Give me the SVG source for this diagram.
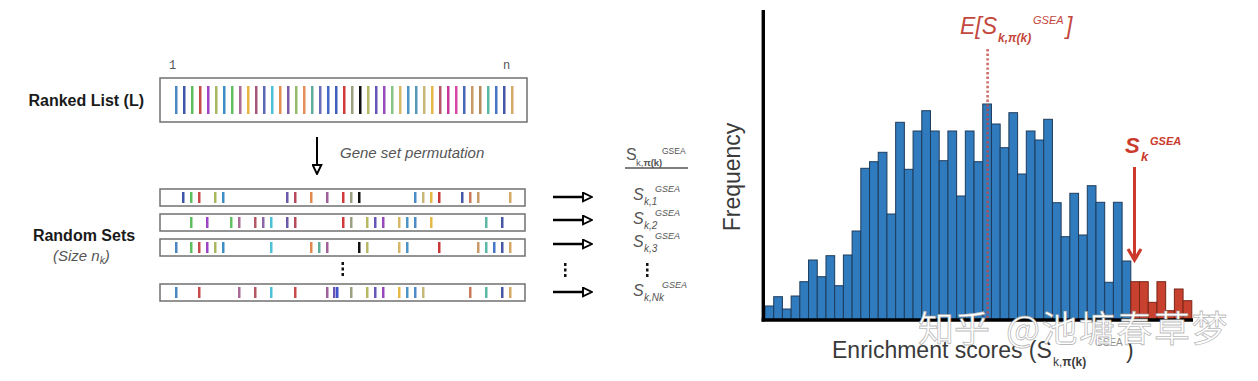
<svg xmlns="http://www.w3.org/2000/svg" width="1258" height="381" viewBox="0 0 1258 381">
<style>
.box{fill:#fff;stroke:#707070;stroke-width:1.5}
.lbl{font-family:"Liberation Sans",Arial,sans-serif;font-weight:bold;font-size:16px;fill:#1a1a1a}
.gray{font-family:"Liberation Sans",Arial,sans-serif;fill:#555}
.it{font-style:italic}
.mono{font-family:"Liberation Mono","Courier New",monospace;font-size:12px;fill:#555}
.ax{font-family:"Liberation Sans",Arial,sans-serif;fill:#3a3a3a}
.red{font-family:"Liberation Sans",Arial,sans-serif;fill:#c3473d;font-style:italic}
.sred{font-family:"Liberation Sans",Arial,sans-serif;fill:#cc3a2d;font-style:italic;font-weight:bold}
.hb rect{fill:#2f7bbd;stroke:#1e3c5c;stroke-width:1}
.hr rect{fill:#c8402e;stroke:#7a2418;stroke-width:1}
.dot{fill:#111}
.wm{font-family:"Noto Sans CJK SC","Noto Sans",sans-serif;font-size:36px;fill:#fff;stroke:#9a9a9a;stroke-width:0.8;stroke-opacity:0.7}
</style>
<defs>
<marker id="openTri" markerWidth="11" markerHeight="11" refX="1" refY="5.5" orient="auto" markerUnits="userSpaceOnUse" viewBox="0 0 11 11">
<path d="M1,1.2 L10,5.5 L1,9.8 Z" fill="#fff" stroke="#000" stroke-width="1.9"/>
</marker>
</defs>
<rect width="1258" height="381" fill="#fff"/>

<g id="ranked-list">
<text class="lbl" x="144" y="106" text-anchor="end">Ranked List (L)</text>
<text class="mono" x="169" y="69">1</text>
<text class="mono" x="503" y="69">n</text>
<rect class="box" x="160" y="78" width="367" height="44"/>
<g id="ranked-bars">
<rect x="175" y="86" width="2.5" height="28" fill="#4a86c0"/>
<rect x="183" y="86" width="2.5" height="28" fill="#3e55a8"/>
<rect x="191" y="86" width="2.5" height="28" fill="#5fbf5f"/>
<rect x="199" y="86" width="2.5" height="28" fill="#c84b4b"/>
<rect x="207" y="86" width="2.5" height="28" fill="#9c44c4"/>
<rect x="215" y="86" width="2.5" height="28" fill="#a8b860"/>
<rect x="223" y="86" width="2.5" height="28" fill="#3e8ec6"/>
<rect x="231" y="86" width="2.5" height="28" fill="#62c062"/>
<rect x="239" y="86" width="2.5" height="28" fill="#aa6a96"/>
<rect x="247" y="86" width="2.5" height="28" fill="#e6b640"/>
<rect x="255" y="86" width="2.5" height="28" fill="#a8567a"/>
<rect x="263" y="86" width="2.5" height="28" fill="#5b66b3"/>
<rect x="271" y="86" width="2.5" height="28" fill="#4cc0d6"/>
<rect x="279" y="86" width="2.5" height="28" fill="#e38c4e"/>
<rect x="287" y="86" width="2.5" height="28" fill="#7c5aa8"/>
<rect x="295" y="86" width="2.5" height="28" fill="#92bb6c"/>
<rect x="303" y="86" width="2.5" height="28" fill="#e48e5a"/>
<rect x="311" y="86" width="2.5" height="28" fill="#5fae9c"/>
<rect x="319" y="86" width="2.5" height="28" fill="#6a6cb8"/>
<rect x="327" y="86" width="2.5" height="28" fill="#4468c6"/>
<rect x="335" y="86" width="2.5" height="28" fill="#3f5fbe"/>
<rect x="343" y="86" width="2.5" height="28" fill="#d23a3a"/>
<rect x="351" y="86" width="2.5" height="28" fill="#9aa080"/>
<rect x="359" y="86" width="2.5" height="28" fill="#111111"/>
<rect x="367" y="86" width="2.5" height="28" fill="#b8b864"/>
<rect x="375" y="86" width="2.5" height="28" fill="#6656b8"/>
<rect x="383" y="86" width="2.5" height="28" fill="#9848bc"/>
<rect x="391" y="86" width="2.5" height="28" fill="#86c486"/>
<rect x="399" y="86" width="2.5" height="28" fill="#d6b868"/>
<rect x="407" y="86" width="2.5" height="28" fill="#4c94c6"/>
<rect x="415" y="86" width="2.5" height="28" fill="#5896b8"/>
<rect x="423" y="86" width="2.5" height="28" fill="#c8b878"/>
<rect x="431" y="86" width="2.5" height="28" fill="#e6b848"/>
<rect x="439" y="86" width="2.5" height="28" fill="#b45866"/>
<rect x="447" y="86" width="2.5" height="28" fill="#c8369a"/>
<rect x="455" y="86" width="2.5" height="28" fill="#d846a6"/>
<rect x="463" y="86" width="2.5" height="28" fill="#4666b6"/>
<rect x="471" y="86" width="2.5" height="28" fill="#c89a66"/>
<rect x="479" y="86" width="2.5" height="28" fill="#b88a58"/>
<rect x="487" y="86" width="2.5" height="28" fill="#5cb8a6"/>
<rect x="495" y="86" width="2.5" height="28" fill="#4676c6"/>
<rect x="503" y="86" width="2.5" height="28" fill="#4656a6"/>
<rect x="511" y="86" width="2.5" height="28" fill="#d6a866"/>
</g>
</g>

<g id="permutation-label">
<text class="gray it" x="340" y="158" font-size="15">Gene set permutation</text>
</g>

<g id="random-sets">
<text class="lbl" x="84" y="241" text-anchor="middle">Random Sets</text>
<text class="gray it" x="53" y="261" font-size="15" fill="#222">(Size n<tspan font-size="10" dy="3">k</tspan><tspan dy="-3">)</tspan></text>
<g id="set1">
<rect class="box" x="160" y="189" width="365" height="17"/>
<rect x="182" y="192" width="2.5" height="11" fill="#3e55a8"/>
<rect x="190" y="192" width="2.5" height="11" fill="#5fbf5f"/>
<rect x="198" y="192" width="2.5" height="11" fill="#c84b4b"/>
<rect x="214" y="192" width="2.5" height="11" fill="#a8b860"/>
<rect x="222" y="192" width="2.5" height="11" fill="#3e8ec6"/>
<rect x="286" y="192" width="2.5" height="11" fill="#6a5aa8"/>
<rect x="294" y="192" width="2.5" height="11" fill="#b44a5a"/>
<rect x="310" y="192" width="2.5" height="11" fill="#e08a50"/>
<rect x="326" y="192" width="2.5" height="11" fill="#a0609a"/>
<rect x="342" y="192" width="2.5" height="11" fill="#d23a3a"/>
<rect x="350" y="192" width="2.5" height="11" fill="#9aa080"/>
<rect x="358" y="192" width="2.5" height="11" fill="#111111"/>
<rect x="414" y="192" width="2.5" height="11" fill="#4c8cc6"/>
<rect x="422" y="192" width="2.5" height="11" fill="#c8b878"/>
<rect x="430" y="192" width="2.5" height="11" fill="#e6b848"/>
<rect x="438" y="192" width="2.5" height="11" fill="#c83838"/>
<rect x="461" y="192" width="2.5" height="11" fill="#4656a6"/>
<rect x="469" y="192" width="2.5" height="11" fill="#c87a5a"/>
<rect x="477" y="192" width="2.5" height="11" fill="#c89a66"/>
<rect x="509" y="192" width="2.5" height="11" fill="#d6a866"/>
</g>
<g id="set2">
<rect class="box" x="160" y="214" width="365" height="17"/>
<rect x="190" y="217" width="2.5" height="11" fill="#5fbf5f"/>
<rect x="206" y="217" width="2.5" height="11" fill="#9c44c4"/>
<rect x="230" y="217" width="2.5" height="11" fill="#62c062"/>
<rect x="238" y="217" width="2.5" height="11" fill="#aa6a96"/>
<rect x="254" y="217" width="2.5" height="11" fill="#b45866"/>
<rect x="262" y="217" width="2.5" height="11" fill="#8a68a8"/>
<rect x="270" y="217" width="2.5" height="11" fill="#4cc0d6"/>
<rect x="286" y="217" width="2.5" height="11" fill="#6a5aa8"/>
<rect x="294" y="217" width="2.5" height="11" fill="#b44a5a"/>
<rect x="342" y="217" width="2.5" height="11" fill="#d23a3a"/>
<rect x="350" y="217" width="2.5" height="11" fill="#9aa080"/>
<rect x="366" y="217" width="2.5" height="11" fill="#b8b864"/>
<rect x="374" y="217" width="2.5" height="11" fill="#6656b8"/>
<rect x="382" y="217" width="2.5" height="11" fill="#9848bc"/>
<rect x="398" y="217" width="2.5" height="11" fill="#d6b868"/>
<rect x="406" y="217" width="2.5" height="11" fill="#4c94c6"/>
<rect x="414" y="217" width="2.5" height="11" fill="#4c8cc6"/>
<rect x="430" y="217" width="2.5" height="11" fill="#e6b848"/>
<rect x="485" y="217" width="2.5" height="11" fill="#5cb8a6"/>
<rect x="501" y="217" width="2.5" height="11" fill="#4656a6"/>
</g>
<g id="set3">
<rect class="box" x="160" y="239" width="365" height="17"/>
<rect x="175" y="242" width="2.5" height="11" fill="#4a86c0"/>
<rect x="190" y="242" width="2.5" height="11" fill="#5fbf5f"/>
<rect x="198" y="242" width="2.5" height="11" fill="#c84b4b"/>
<rect x="206" y="242" width="2.5" height="11" fill="#9c44c4"/>
<rect x="214" y="242" width="2.5" height="11" fill="#a8b860"/>
<rect x="222" y="242" width="2.5" height="11" fill="#3e8ec6"/>
<rect x="270" y="242" width="2.5" height="11" fill="#4cc0d6"/>
<rect x="310" y="242" width="2.5" height="11" fill="#e08a50"/>
<rect x="318" y="242" width="2.5" height="11" fill="#5fae9c"/>
<rect x="326" y="242" width="2.5" height="11" fill="#a0609a"/>
<rect x="358" y="242" width="2.5" height="11" fill="#111111"/>
<rect x="366" y="242" width="2.5" height="11" fill="#b8b864"/>
<rect x="398" y="242" width="2.5" height="11" fill="#d6b868"/>
<rect x="406" y="242" width="2.5" height="11" fill="#4c94c6"/>
<rect x="438" y="242" width="2.5" height="11" fill="#c83838"/>
<rect x="477" y="242" width="2.5" height="11" fill="#c89a66"/>
<rect x="485" y="242" width="2.5" height="11" fill="#5cb8a6"/>
<rect x="493" y="242" width="2.5" height="11" fill="#4676c6"/>
<rect x="501" y="242" width="2.5" height="11" fill="#4656a6"/>
<rect x="509" y="242" width="2.5" height="11" fill="#d6a866"/>
</g>
<g id="set-dots">
<rect class="dot" x="341.5" y="262" width="2.5" height="3"/>
<rect class="dot" x="341.5" y="267.5" width="2.5" height="3"/>
<rect class="dot" x="341.5" y="273" width="2.5" height="3"/>
</g>
<g id="setNk">
<rect class="box" x="160" y="284" width="365" height="17"/>
<rect x="175" y="287" width="2.5" height="11" fill="#4a86c0"/>
<rect x="198" y="287" width="2.5" height="11" fill="#c84b4b"/>
<rect x="238" y="287" width="2.5" height="11" fill="#aa6a96"/>
<rect x="254" y="287" width="2.5" height="11" fill="#b45866"/>
<rect x="270" y="287" width="2.5" height="11" fill="#4cc0d6"/>
<rect x="294" y="287" width="2.5" height="11" fill="#c84b4b"/>
<rect x="326" y="287" width="2.5" height="11" fill="#a0609a"/>
<rect x="333" y="287" width="2.5" height="11" fill="#6656b8"/>
<rect x="336" y="287" width="2.5" height="11" fill="#3e55c8"/>
<rect x="350" y="287" width="2.5" height="11" fill="#9aa080"/>
<rect x="366" y="287" width="2.5" height="11" fill="#b8b864"/>
<rect x="374" y="287" width="2.5" height="11" fill="#6656b8"/>
<rect x="382" y="287" width="2.5" height="11" fill="#9848bc"/>
<rect x="398" y="287" width="2.5" height="11" fill="#e6b848"/>
<rect x="406" y="287" width="2.5" height="11" fill="#4c94c6"/>
<rect x="414" y="287" width="2.5" height="11" fill="#4c8cc6"/>
<rect x="422" y="287" width="2.5" height="11" fill="#c8b878"/>
<rect x="469" y="287" width="2.5" height="11" fill="#c87a5a"/>
<rect x="485" y="287" width="2.5" height="11" fill="#5cb8a6"/>
<rect x="501" y="287" width="2.5" height="11" fill="#4656a6"/>
<rect x="509" y="287" width="2.5" height="11" fill="#d6a866"/>
</g>
</g>

<g id="scores">
<g id="score-header">
<text class="gray" x="626" y="160" font-size="16">S</text>
<text class="gray" x="636" y="166" font-size="9.5">k,<tspan font-weight="bold">π(k)</tspan></text>
<text class="gray" x="662" y="154" font-size="8.5">GSEA</text>
<line x1="625" y1="168" x2="688" y2="168" stroke="#555" stroke-width="1.5"/>
</g>
<g id="score1">
<text class="gray it" x="633" y="200" font-size="16">S</text>
<text class="gray it" x="644" y="205" font-size="10">k,1</text>
<text class="gray it" x="655" y="192" font-size="9">GSEA</text>
</g>
<g id="score2">
<text class="gray it" x="633" y="224" font-size="16">S</text>
<text class="gray it" x="644" y="229" font-size="10">k,2</text>
<text class="gray it" x="655" y="216" font-size="9">GSEA</text>
</g>
<g id="score3">
<text class="gray it" x="633" y="247" font-size="16">S</text>
<text class="gray it" x="644" y="252" font-size="10">k,3</text>
<text class="gray it" x="655" y="239" font-size="9">GSEA</text>
</g>
<g id="score-dots">
<rect class="dot" x="646" y="263" width="2.5" height="3"/>
<rect class="dot" x="646" y="268.5" width="2.5" height="3"/>
<rect class="dot" x="646" y="274" width="2.5" height="3"/>
</g>
<g id="scoreNk">
<text class="gray it" x="633" y="296" font-size="16">S</text>
<text class="gray it" x="644" y="301" font-size="10">k,Nk</text>
<text class="gray it" x="662" y="288" font-size="9">GSEA</text>
</g>
</g>

<g id="connectors" stroke="#000" stroke-width="2.5" fill="none">
<line x1="317" y1="137" x2="317" y2="165" stroke-width="2" marker-end="url(#openTri)"/>
<line x1="553" y1="197" x2="583" y2="197" marker-end="url(#openTri)"/>
<line x1="553" y1="220" x2="583" y2="220" marker-end="url(#openTri)"/>
<line x1="553" y1="244" x2="583" y2="244" marker-end="url(#openTri)"/>
<line x1="553" y1="292" x2="583" y2="292" marker-end="url(#openTri)"/>
<g stroke="none" fill="#111">
<rect x="564" y="263" width="2.5" height="3"/>
<rect x="564" y="268.5" width="2.5" height="3"/>
<rect x="564" y="274" width="2.5" height="3"/>
</g>
</g>

<g id="histogram">
<g class="hb">
<rect x="765.00" y="306" width="8.71" height="14"/>
<rect x="773.71" y="296.7" width="8.71" height="23.3"/>
<rect x="782.42" y="309" width="8.71" height="11"/>
<rect x="791.13" y="296" width="8.71" height="24"/>
<rect x="799.84" y="281.7" width="8.71" height="38.3"/>
<rect x="808.55" y="260" width="8.71" height="60"/>
<rect x="817.26" y="276.7" width="8.71" height="43.3"/>
<rect x="825.97" y="255.7" width="8.71" height="64.3"/>
<rect x="834.68" y="285.7" width="8.71" height="34.3"/>
<rect x="843.39" y="255" width="8.71" height="65"/>
<rect x="852.10" y="231" width="8.71" height="89"/>
<rect x="860.81" y="168.3" width="8.71" height="151.7"/>
<rect x="869.52" y="161.7" width="8.71" height="158.3"/>
<rect x="878.23" y="152.3" width="8.71" height="167.7"/>
<rect x="886.94" y="214" width="8.71" height="106"/>
<rect x="895.65" y="122.3" width="8.71" height="197.7"/>
<rect x="904.36" y="169.3" width="8.71" height="150.7"/>
<rect x="913.07" y="131" width="8.71" height="189"/>
<rect x="921.78" y="110.7" width="8.71" height="209.3"/>
<rect x="930.49" y="131" width="8.71" height="189"/>
<rect x="939.20" y="160.7" width="8.71" height="159.3"/>
<rect x="947.91" y="131" width="8.71" height="189"/>
<rect x="956.62" y="196" width="8.71" height="124"/>
<rect x="965.33" y="131" width="8.71" height="189"/>
<rect x="974.04" y="161.7" width="8.71" height="158.3"/>
<rect x="982.75" y="104" width="8.71" height="216"/>
<rect x="991.46" y="124" width="8.71" height="196"/>
<rect x="1000.17" y="147.7" width="8.71" height="172.3"/>
<rect x="1008.88" y="112.7" width="8.71" height="207.3"/>
<rect x="1017.59" y="174" width="8.71" height="146"/>
<rect x="1026.30" y="131" width="8.71" height="189"/>
<rect x="1035.01" y="140" width="8.71" height="180"/>
<rect x="1043.72" y="119.3" width="8.71" height="200.7"/>
<rect x="1052.43" y="202.7" width="8.71" height="117.3"/>
<rect x="1061.14" y="236.7" width="8.71" height="83.3"/>
<rect x="1069.85" y="193.3" width="8.71" height="126.7"/>
<rect x="1078.56" y="235" width="8.71" height="85"/>
<rect x="1087.27" y="185.7" width="8.71" height="134.3"/>
<rect x="1095.98" y="202.3" width="8.71" height="117.7"/>
<rect x="1104.69" y="282.3" width="8.71" height="37.7"/>
<rect x="1113.40" y="202.3" width="8.71" height="117.7"/>
<rect x="1122.11" y="261" width="8.71" height="59"/>
</g>
<g class="hr">
<rect x="1130.82" y="281.7" width="8.71" height="38.3"/>
<rect x="1139.53" y="281.7" width="8.71" height="38.3"/>
<rect x="1148.24" y="302.3" width="8.71" height="17.7"/>
<rect x="1156.95" y="281.7" width="8.71" height="38.3"/>
<rect x="1165.66" y="310.7" width="8.71" height="9.3"/>
<rect x="1174.37" y="289" width="8.71" height="31"/>
<rect x="1183.08" y="300.7" width="8.71" height="19.3"/>
</g>
<line x1="763.3" y1="10" x2="763.3" y2="321.5" stroke="#000" stroke-width="3.4"/>
<line x1="761.6" y1="320" x2="1193" y2="320" stroke="#000" stroke-width="3.4"/>
<line x1="987.6" y1="49" x2="987.6" y2="318" stroke="#c24a45" stroke-width="2.6" stroke-dasharray="2.4 2.2" stroke-opacity="0.8"/>
<text class="ax" font-size="23" transform="translate(740 177) rotate(-90)" text-anchor="middle">Frequency</text>
</g>

<g id="expected-label">
<text class="red" x="960" y="34" font-size="23">E[S</text>
<text class="red" x="998" y="42" font-size="12" font-weight="bold">k,π(k)</text>
<text class="red" x="1033" y="24" font-size="11">GSEA</text>
<text class="red" x="1066" y="34" font-size="23">]</text>
</g>

<g id="observed-label">
<text class="sred" x="1125" y="153" font-size="22">S</text>
<text class="sred" x="1141" y="161" font-size="13">k</text>
<text class="sred" x="1150" y="145" font-size="11">GSEA</text>
<line x1="1134.5" y1="167" x2="1134.5" y2="258" stroke="#cc3a2d" stroke-width="3"/>
<polyline points="1128,249 1134.5,260 1141,249" fill="none" stroke="#cc3a2d" stroke-width="3.2" stroke-linejoin="miter"/>
</g>

<g id="x-axis-label">
<text class="ax" x="832" y="358" font-size="23">Enrichment scores (S</text>
<text class="ax" x="1053" y="366" font-size="12">k,<tspan font-weight="bold">π(k)</tspan></text>
<text class="ax" x="1095" y="346" font-size="10" fill-opacity="0.6">GSEA</text>
<text class="ax" x="1126" y="358" font-size="23">)</text>
</g>

<g id="watermark">
<text class="wm" x="918" y="342">知乎</text>
<text class="wm" x="1006" y="342" letter-spacing="1.5">@池塘春草梦</text>
</g>
</svg>
